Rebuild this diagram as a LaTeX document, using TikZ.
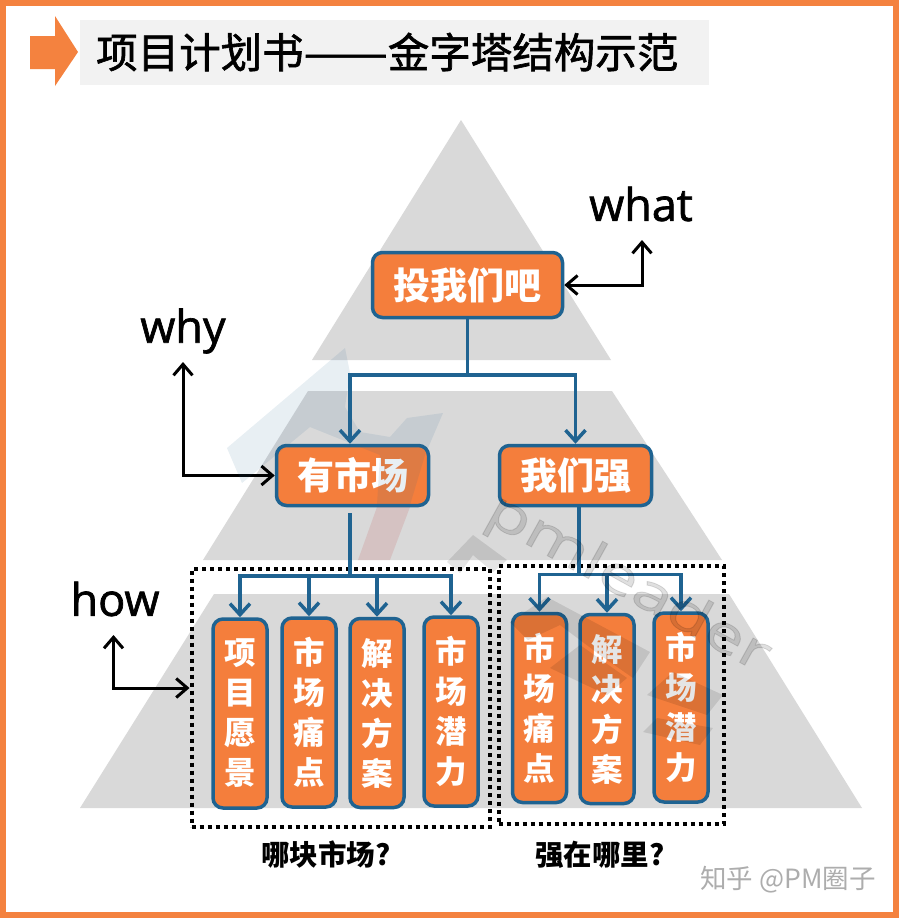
\documentclass[tikz,border=0pt]{standalone}
\usepackage{fontspec}
\usepackage{graphicx}
\usetikzlibrary{arrows.meta}
\setmainfont{Open Sans}
\newfontfamily\wordfont[FakeBold=1.5]{Open Sans}
\newfontfamily\cjk{Noto Sans CJK SC}
\newfontfamily\cjkhead[FakeBold=1.5]{Noto Sans CJK SC}

\definecolor{frameorange}{HTML}{F4823F}
\definecolor{boxorange}{HTML}{F47E3C}
\definecolor{linkblue}{HTML}{1F6391}
\definecolor{pyrgray}{HTML}{D9D9D9}

\tikzset{
	pyr/.style={fill=pyrgray,draw=none},
	hbox/.style={draw=linkblue,fill=boxorange,line width=3.5pt,rounded corners=10pt,minimum height=60pt,text=white,font=\cjk\bfseries\fontsize{37}{37}\selectfont},
	vbox/.style={draw=linkblue,fill=boxorange,line width=3.5pt,rounded corners=10pt,minimum width=54pt,minimum height=189pt,inner sep=0pt,text=white,align=center,font=\cjk\bfseries\fontsize{31.5}{40}\selectfont},
	link/.style={draw=linkblue,line width=3.5pt},
	tip/.style={-{Straight Barb[length=11pt,width=20pt,line width=3.5pt]}},
	guide/.style={draw=black,line width=3pt},
	gtip/.style={{Straight Barb[length=11pt,width=19pt,line width=3pt]}-{Straight Barb[length=11pt,width=19pt,line width=3pt]}},
	dotbox/.style={draw=black,line width=4pt,dash pattern=on 4pt off 4pt,minimum width=298pt},
	word/.style={font=\wordfont\fontsize{45}{45}\selectfont},
	caption/.style={font=\cjk\bfseries\fontsize{28.5}{28.5}\selectfont}
}

\begin{document}
\begin{tikzpicture}[x=1pt,y=-1pt]
	\useasboundingbox (0,0) rectangle (901,919);
	\fill[white] (0,0) rectangle (901,919);
	\draw[frameorange,line width=6pt] (3,3) rectangle (896,915);

	% heading
	\fill[frameorange] (30,36)--(55,36)--(55,16)--(78,52)--(55,86)--(55,69)--(30,69)--cycle;
	\fill[black!5] (80,20) rectangle (709,85);
	\node (heading) [font=\cjkhead\fontsize{41.5}{41.5}\selectfont,anchor=west,inner sep=0pt] at (96,52) {项目计划书\scalebox{1.21}[1]{——}金字塔结构示范};

	% pyramid layers
	\fill[pyr] (461,120)--(611,360)--(312,360)--cycle;
	\fill[pyr] (308,391)--(612,391)--(722,560)--(203,560)--cycle;
	\fill[pyr] (214,594)--(729,594)--(862,808)--(80,808)--cycle;

	\node (root) [hbox,minimum width=190pt,minimum height=65pt] at (467.5,285) {投我们吧};
	\node (mkt) [hbox,minimum width=152pt] at (352.5,475.5) {有市场};
	\node (wes) [hbox,minimum width=152pt] at (575.5,475.5) {我们强};

	\foreach \nm/\cx/\cy/\lbl in {va/240/713.5/{项\\目\\愿\\景},vb/309/712.5/{市\\场\\痛\\点},vc/377/713/{解\\决\\方\\案},vd/451/711.5/{市\\场\\潜\\力},ve/539.5/708/{市\\场\\痛\\点},vf/607/709/{解\\决\\方\\案},vg/681/707.5/{市\\场\\潜\\力}}
		\node (\nm) [vbox] at (\cx,\cy) {\lbl};

	\node (marketbox) [dotbox,minimum height=258pt] at (340.5,697.5) {};
	\node (strongbox) [dotbox,minimum width=225pt,minimum height=258pt] at (611,694.5) {};

	% tree links
	\coordinate (busroot) at (467.5,375);
	\coordinate (busmkt) at (350,576);
	\coordinate (buswes) at (579,574.5);
	\draw[link] (root) -- (busroot);
	\draw[link,tip] (busroot) -| ([xshift=-2.5pt]mkt.north);
	\draw[link,tip] (busroot) -| (wes.north);
	\draw[link,shorten <=6pt] (busmkt |- mkt.south) -- (busmkt);
	\foreach \nm in {va,vb,vc,vd}
		\draw[link,tip] (busmkt) -| (\nm.north);
	\draw[link] (buswes |- wes.south) -- (buswes);
	\foreach \nm in {ve,vf,vg}
		\draw[link,tip] (buswes) -| (\nm.north);

	% what why how
	\node (what) [word] at (641,204) {what};
	\node (why) [word] at (183,331) {why};
	\node (how) [word] at (115,599) {how};
	\coordinate (whatend) at (642,240);
	\coordinate (whyend) at (183,362);
	\coordinate (howend) at (113.5,635);
	\draw[guide,gtip] (root.east) -| (whatend);
	\draw[guide,gtip] (mkt.west) -| (whyend);
	\draw[guide,gtip] (marketbox.west |- 0,688) -| (howend);

	\node (askmarket) [caption] at (326,855) {哪块市场?};
	\node (askstrong) [caption] at (600,855) {强在哪里?};

	% faint marks over the picture
	\begin{scope}[opacity=0.1]
		\fill[linkblue] (227,448)--(345,348)--(350,373)--(345,407)--(360,432)--(390,437)--(407,418)--(443,413)--(425,455)--(410,505)--(377,505)--(380,455)--(310,427)--(242,483)--cycle;
		\fill[red!70!black] (377,507)--(410,507)--(390,560)--(358,560)--cycle;
		\fill[black] (447,562)--(473,535)--(507,560)--(493,572)--(473,555)--(460,573)--cycle;
		\fill[black] (510,622)--(547,597)--(650,652)--(633,678)--(600,655)--(560,625)--(528,640)--cycle;
		\fill[black] (550,668)--(580,645)--(627,678)--(607,695)--cycle;
		\fill[black] (647,695)--(673,672)--(723,695)--(707,715)--cycle;
		\fill[black] (643,732)--(657,718)--(713,728)--(700,745)--cycle;
	\end{scope}
	\node (pmmark) [rotate=-29,xscale=1.35,text opacity=0.12,font=\wordfont\fontsize{52}{52}\selectfont] at (628,585) {pmleader};
	\node (zhihu) [text=black!32,font=\cjk\fontsize{26.5}{26.5}\selectfont] at (788,880) {知乎 @PM圈子};
\end{tikzpicture}
\end{document}
